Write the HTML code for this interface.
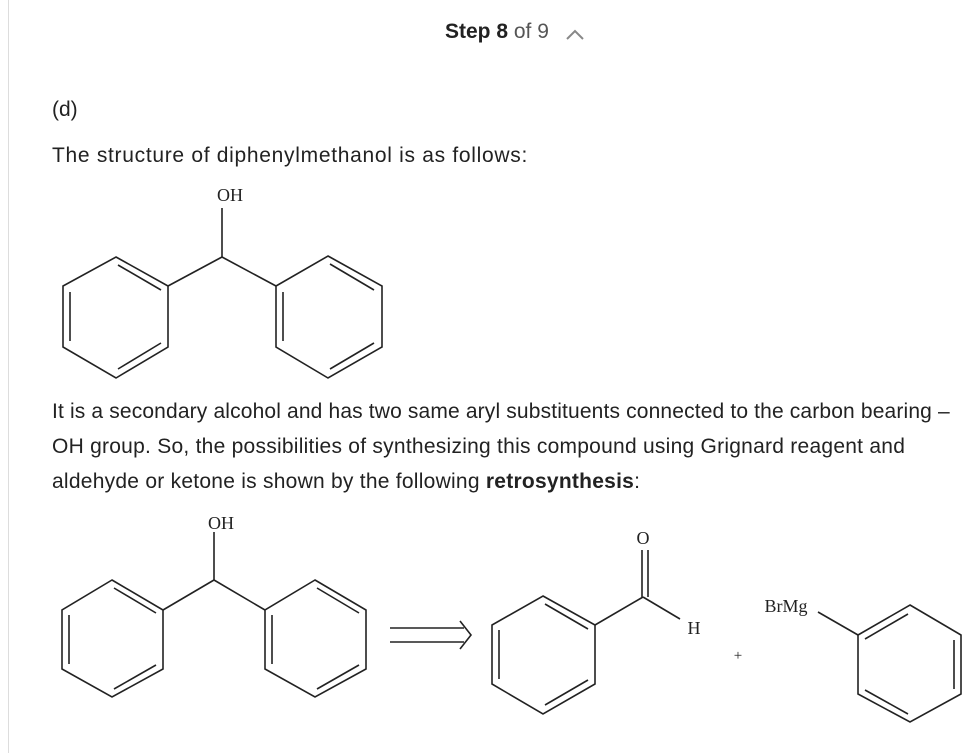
<!DOCTYPE html>
<html><head><meta charset="utf-8"><style>
html,body{margin:0;padding:0;background:#fff;width:966px;height:753px;overflow:hidden;position:relative;font-family:"Liberation Sans",Arial,sans-serif;color:#222;}
.bl{position:absolute;left:8px;top:0;width:1px;height:753px;background:#ddd;}
.t{position:absolute;white-space:nowrap;font-size:21px;}
svg{position:absolute;left:0;top:0;}
</style></head><body>
<div class="bl"></div>
<div class="t" style="left:445px;top:20px;"><b>Step 8</b> <span style="color:#555">of 9</span></div>
<svg width="966" height="753" viewBox="0 0 966 753">
<polyline points="567,39 575,31 583,39" fill="none" stroke="#888" stroke-width="2"/>
<g fill="none" stroke="#222" stroke-width="1.6">
<line x1="222" y1="208" x2="222" y2="257"/>
<line x1="222" y1="257" x2="168" y2="286"/><line x1="222" y1="257" x2="276" y2="286"/>
<polygon points="116,257 168,286 168,347 116,378 63,347 63,286"/>
<line x1="118" y1="265" x2="161" y2="290"/><line x1="161" y1="343" x2="118" y2="369"/><line x1="70" y1="292" x2="70" y2="341"/>
<polygon points="328,256 382,286 382,347 328,378 276,347 276,286"/>
<line x1="330" y1="264" x2="374" y2="290"/><line x1="374" y1="343" x2="330" y2="369"/><line x1="283" y1="292" x2="283" y2="341"/>
<line x1="214" y1="532" x2="214" y2="580"/>
<line x1="214" y1="580" x2="163" y2="610"/><line x1="214" y1="580" x2="265" y2="610"/>
<polygon points="112,580 163,610 163,669 112,697 62,669 62,610"/>
<line x1="114" y1="588" x2="156" y2="613"/><line x1="156" y1="665" x2="114" y2="689"/><line x1="69" y1="615" x2="69" y2="664"/>
<polygon points="315,580 366,610 366,669 315,697 265,669 265,610"/>
<line x1="317" y1="588" x2="359" y2="613"/><line x1="359" y1="665" x2="317" y2="689"/><line x1="272" y1="615" x2="272" y2="664"/>
<line x1="390" y1="628" x2="464" y2="628"/><line x1="390" y1="642" x2="464" y2="642"/>
<polyline points="460,621 471,635 460,649"/>
<polygon points="543,596 595,625 595,684 543,714 492,684 492,625"/>
<line x1="545" y1="604" x2="588" y2="629"/><line x1="588" y1="680" x2="545" y2="705"/><line x1="499" y1="630" x2="499" y2="679"/>
<line x1="595" y1="625" x2="643" y2="597"/>
<line x1="642" y1="597" x2="642" y2="550"/><line x1="648" y1="597" x2="648" y2="550"/>
<line x1="643" y1="597" x2="680" y2="619"/>
<line x1="818" y1="612" x2="858" y2="635"/>
<polygon points="910,605 961,635 961,694 910,722 858,694 858,635"/>
<line x1="865" y1="639" x2="908" y2="614"/><line x1="954" y1="640" x2="954" y2="689"/><line x1="865" y1="690" x2="908" y2="714"/>
</g>
<g font-family="Liberation Serif,serif" font-size="18" fill="#222" text-anchor="middle">
<text x="230" y="201">OH</text>
<text x="221" y="529">OH</text>
<text x="643" y="544">O</text>
<text x="694" y="634">H</text>
<text x="738" y="660" font-size="15">+</text>
<text x="786" y="612">BrMg</text>
</g>
</svg>
<div class="t" style="left:52px;top:98px;">(d)</div>
<div class="t" style="left:52px;top:144px;letter-spacing:0.7px;">The structure of diphenylmethanol is as follows:</div>
<div class="t" style="left:52px;top:400px;letter-spacing:0.15px;">It is a secondary alcohol and has two same aryl substituents connected to the carbon bearing –</div>
<div class="t" style="left:52px;top:435px;letter-spacing:0.25px;">OH group. So, the possibilities of synthesizing this compound using Grignard reagent and</div>
<div class="t" style="left:52px;top:470px;letter-spacing:0.25px;">aldehyde or ketone is shown by the following <b>retrosynthesis</b>:</div>
</body></html>
